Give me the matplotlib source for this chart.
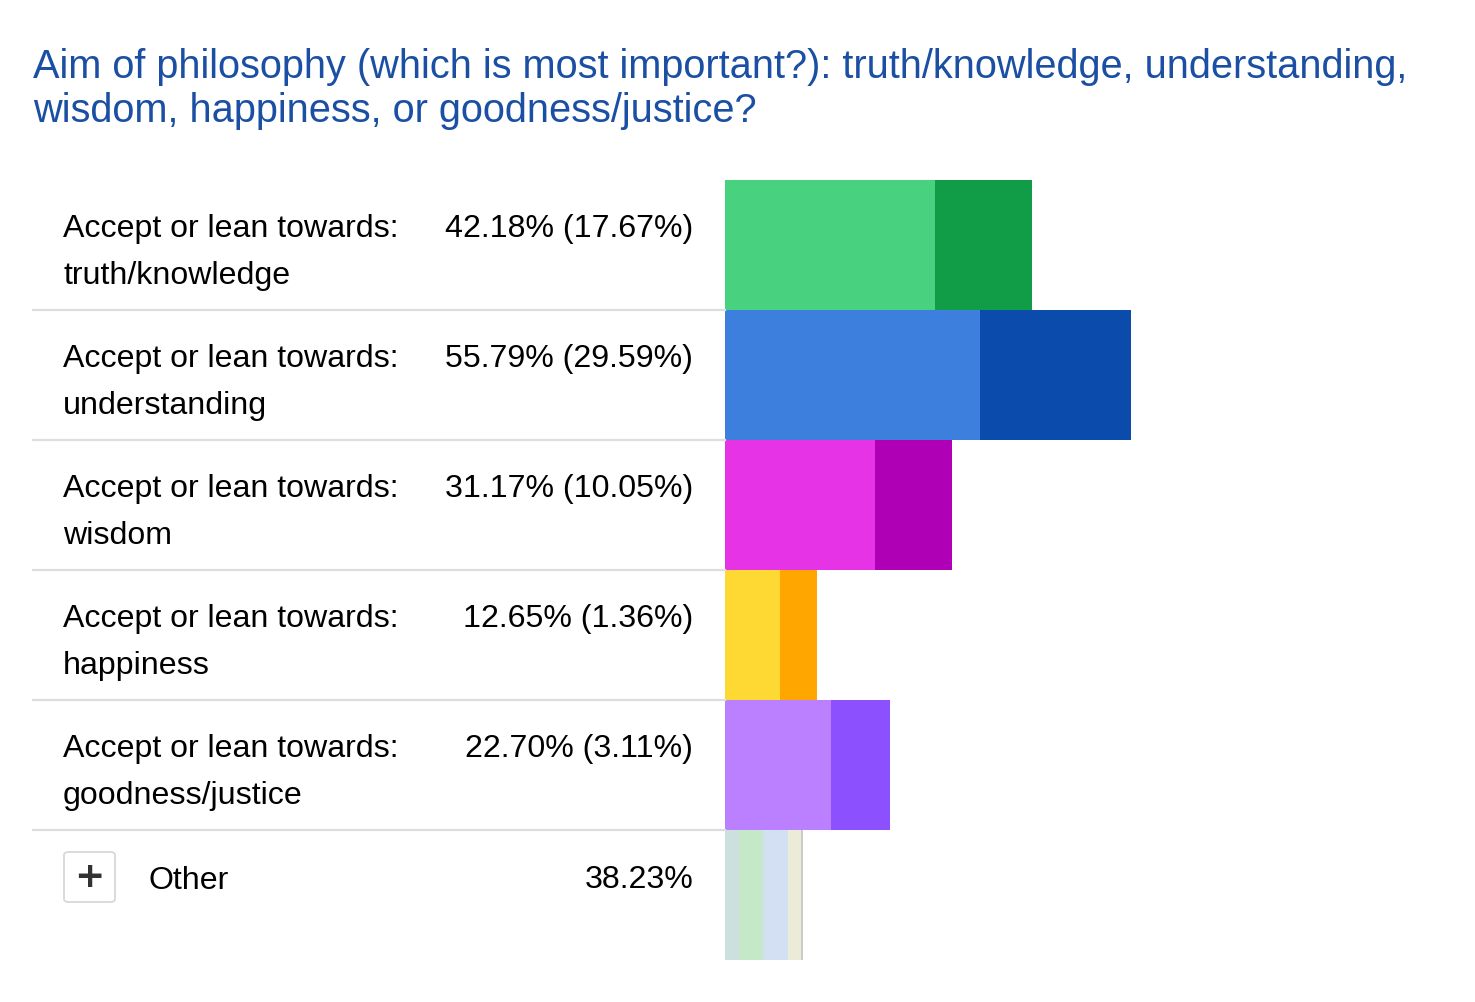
import matplotlib
matplotlib.use("Agg")
import matplotlib.pyplot as plt
from matplotlib.patches import FancyBboxPatch
import matplotlib.transforms as mtrans

plt.rcParams['font.family'] = ['Liberation Sans', 'DejaVu Sans']

TITLE_LINES = ["Aim of philosophy (which is most important?): truth/knowledge, understanding,",
               "wisdom, happiness, or goodness/justice?"]
options = ["truth/knowledge", "understanding", "wisdom", "happiness", "goodness/justice"]
pct_labels = ["42.18% (17.67%)", "55.79% (29.59%)", "31.17% (10.05%)", "12.65% (1.36%)", "22.70% (3.11%)"]
# bar segment lengths (in %)
light_vals = [28.9, 35.1, 20.6, 7.6, 14.6]
dark_vals = [13.3, 20.8, 10.6, 5.1, 8.1]
light_cols = ["#48d27f", "#3d7fdd", "#e633e5", "#ffd933", "#bb80ff"]
dark_cols = ["#119c47", "#0a4bab", "#b000b5", "#ffa600", "#8c50ff"]
other_label = "38.23%"
other_vals = [1.97, 3.30, 3.44, 1.70, 0.32]
other_cols = ["#cde0e0", "#c5e8c8", "#d3dff3", "#ecebd8", "#cbcbcb"]

W, H = 1475, 1003
fig = plt.figure(figsize=(W / 100, H / 100), dpi=100)
fig.patch.set_facecolor("white")

PX = 7.27  # pixels per percent
x0, top, row_h = 725, 181, 130
nrows = len(options) + 1
ax = fig.add_axes([x0 / W, (H - top - nrows * row_h) / H, (W - x0) / W, nrows * row_h / H])
ax.set_xlim(0, (W - x0) / PX)
ax.set_ylim(nrows, 0)
ax.axis("off")

for i in range(len(options)):
    ax.barh(i, light_vals[i], height=1, align="edge", color=light_cols[i], linewidth=0)
    ax.barh(i, dark_vals[i], left=light_vals[i], height=1, align="edge", color=dark_cols[i], linewidth=0)

left = 0
for v, c in zip(other_vals, other_cols):
    ax.barh(len(options), v, left=left, height=1, align="edge", color=c, linewidth=0)
    left += v

# texts: x in figure pixels, y in row units
tr = mtrans.blended_transform_factory(mtrans.Affine2D().scale(1 / W, 1) + fig.transFigure, ax.transData)
fs = 23.1
for i, opt in enumerate(options):
    fig.text(63, i + 56 / row_h, "Accept or lean towards:", transform=tr, fontsize=fs, va="baseline", ha="left")
    fig.text(63, i + 103 / row_h, opt, transform=tr, fontsize=fs, va="baseline", ha="left")
    fig.text(693, i + 56 / row_h, pct_labels[i], transform=tr, fontsize=fs, va="baseline", ha="right")
    # separator below each row
    fig.add_artist(plt.Line2D([33, x0], [i + 1, i + 1], transform=tr, color="#dddddd", lw=1.6))

k = len(options)
fig.text(148, k + 58 / row_h, "Other", transform=tr, fontsize=fs, va="baseline", ha="left")
fig.text(693, k + 57 / row_h, other_label, transform=tr, fontsize=fs, va="baseline", ha="right")

# plus button
btn = FancyBboxPatch((64 / W, 1 - 903 / H), 51 / W, 50 / H,
                     boxstyle="round,pad=0,rounding_size=0.003",
                     transform=fig.transFigure, facecolor="white", edgecolor="#d8d8d8", lw=1.3)
fig.add_artist(btn)
fig.text(89.5 / W, 1 - 877.5 / H, "+", fontsize=26, fontweight="bold", color="#333333",
         ha="center", va="center", family="DejaVu Sans")

for j, (line, base) in enumerate(zip(TITLE_LINES, [78, 122])):
    fig.text(33 / W, 1 - base / H, line, fontsize=28.6, color="#1a4fa3", ha="left", va="baseline")

fig.savefig("out.png", dpi=100, facecolor="white")
